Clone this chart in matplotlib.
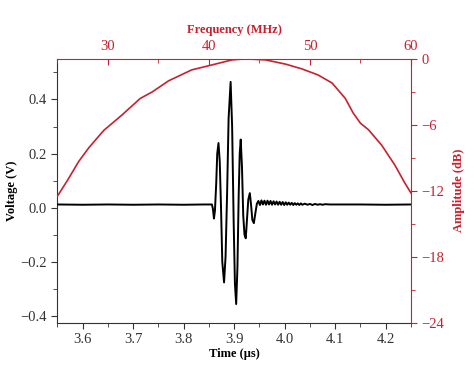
import matplotlib
matplotlib.use("Agg")
import matplotlib.pyplot as plt
from matplotlib.ticker import MultipleLocator

RED = "#c8202e"
SERIF = ["Liberation Serif", "DejaVu Serif"]

# Pulse-echo waveform (time in us, voltage in V)
time_us = [3.550, 3.600, 3.650, 3.700, 3.750, 3.800, 3.840, 3.856,
           3.858, 3.860, 3.862, 3.8645, 3.8665, 3.869, 3.8715, 3.874,
           3.8765, 3.880, 3.883, 3.886, 3.889, 3.893, 3.896, 3.899,
           3.9015, 3.904, 3.9065, 3.909, 3.911, 3.913, 3.9155, 3.918,
           3.9205, 3.923, 3.9255, 3.928, 3.931, 3.9335, 3.936, 3.939,
           3.942, 3.945, 3.948, 3.951, 3.954, 3.957, 3.960, 3.963,
           3.966, 3.969, 3.972, 3.975, 3.978, 3.981, 3.984, 3.987,
           3.990, 3.993, 3.996, 3.999, 4.002, 4.005, 4.008, 4.011,
           4.014, 4.017, 4.020, 4.023, 4.026, 4.029, 4.032, 4.035,
           4.040, 4.045, 4.050, 4.055, 4.060, 4.065, 4.070, 4.075,
           4.080, 4.090, 4.100, 4.150, 4.200, 4.250]
voltage = [0.012, 0.011, 0.012, 0.011, 0.012, 0.011, 0.012, 0.012,
           -0.005, -0.040, -0.010, 0.090, 0.200, 0.239, 0.170, 0.000,
           -0.200, -0.276, -0.180, 0.050, 0.330, 0.465, 0.300, -0.050,
           -0.280, -0.356, -0.220, 0.050, 0.200, 0.252, 0.150, -0.030,
           -0.100, -0.113, -0.040, 0.030, 0.054, 0.010, -0.045, -0.057,
           -0.020, 0.015, 0.025, 0.010, 0.027, 0.012, 0.026, 0.011,
           0.026, 0.012, 0.025, 0.011, 0.024, 0.012, 0.023, 0.011,
           0.022, 0.011, 0.021, 0.010, 0.020, 0.011, 0.019, 0.011,
           0.018, 0.010, 0.017, 0.011, 0.016, 0.010, 0.016, 0.011,
           0.015, 0.011, 0.014, 0.010, 0.014, 0.011, 0.013, 0.011,
           0.013, 0.012, 0.012, 0.012, 0.011, 0.012]

# Frequency spectrum (MHz, dB)
freq_mhz = [25.0, 26.1, 27.1, 28.1, 29.6, 31.4, 33.2, 34.4, 36.0, 38.3,
            40.3, 42.3, 43.6, 45.6, 47.6, 49.2, 50.8, 52.2, 53.5, 54.3,
            55.0, 55.8, 57.1, 58.4, 59.4, 60.0]
amp_db = [-12.5, -10.9, -9.35, -8.1, -6.5, -5.1, -3.6, -3.0, -2.0, -1.0,
          -0.55, -0.09, 0.0, -0.09, -0.48, -0.91, -1.46, -2.2, -3.6, -4.95,
          -5.85, -6.45, -7.85, -9.65, -11.3, -12.2]

fig = plt.figure(figsize=(4.74, 3.68), dpi=100)
pos = [0.121, 0.123, 0.746, 0.717]

ax = fig.add_axes(pos)
ax.plot(time_us, voltage, color="black", lw=1.4, zorder=3)
ax.set_xlim(3.55, 4.25)
ax.set_ylim(-0.425, 0.55)
ax.xaxis.set_major_locator(MultipleLocator(0.1))
ax.xaxis.set_minor_locator(MultipleLocator(0.05))
ax.yaxis.set_major_locator(MultipleLocator(0.2))
ax.yaxis.set_minor_locator(MultipleLocator(0.1))
ax.tick_params(which="both", direction="out", color="#333333", labelsize=10.5)
ax.tick_params(which="major", length=4)
ax.tick_params(which="minor", length=3)
for lab in ax.get_xticklabels() + ax.get_yticklabels():
    lab.set_family(SERIF)
    lab.set_color("#333333")
ax.spines["top"].set_visible(False)
ax.spines["right"].set_visible(False)
ax.spines["left"].set_color("#333333")
ax.spines["bottom"].set_color("#333333")
ax.set_xlabel("Time (μs)", family=SERIF, fontweight="bold", fontsize=9, labelpad=1)
ax.set_ylabel("Voltage (V)", family=SERIF, fontweight="bold", fontsize=9, labelpad=2)

# spectrum on top/right axes
ax2 = fig.add_axes(pos, facecolor="none")
ax2.plot(freq_mhz, amp_db, color=RED, lw=1.2, zorder=2)
ax2.set_xlim(25, 60)
ax2.set_ylim(-24, 0)
ax2.xaxis.tick_top()
ax2.xaxis.set_label_position("top")
ax2.yaxis.tick_right()
ax2.yaxis.set_label_position("right")
ax2.xaxis.set_major_locator(MultipleLocator(10))
ax2.xaxis.set_minor_locator(MultipleLocator(5))
ax2.yaxis.set_major_locator(MultipleLocator(6))
ax2.yaxis.set_minor_locator(MultipleLocator(3))
ax2.tick_params(which="both", color=RED, labelcolor=RED, labelsize=10.5)
ax2.tick_params(axis="y", which="both", direction="out")
ax2.tick_params(axis="x", which="both", direction="in", pad=4)
ax2.tick_params(which="major", length=4)
ax2.tick_params(which="minor", length=3)
for lab in ax2.get_xticklabels() + ax2.get_yticklabels():
    lab.set_family(SERIF)
ax2.yaxis.set_major_formatter(lambda v, p: f"{v:.0f}".replace("-", "\u2212"))
ax2.spines["left"].set_visible(False)
ax2.spines["bottom"].set_visible(False)
ax2.spines["top"].set_color(RED)
ax2.spines["right"].set_color(RED)
ax2.set_xlabel("Frequency (MHz)", family=SERIF, fontweight="bold", fontsize=9,
               color=RED, labelpad=5)
ax2.set_ylabel("Amplitude (dB)", family=SERIF, fontweight="bold", fontsize=9,
               color=RED, labelpad=6)

fig.savefig("out.png", dpi=100, facecolor="white")
